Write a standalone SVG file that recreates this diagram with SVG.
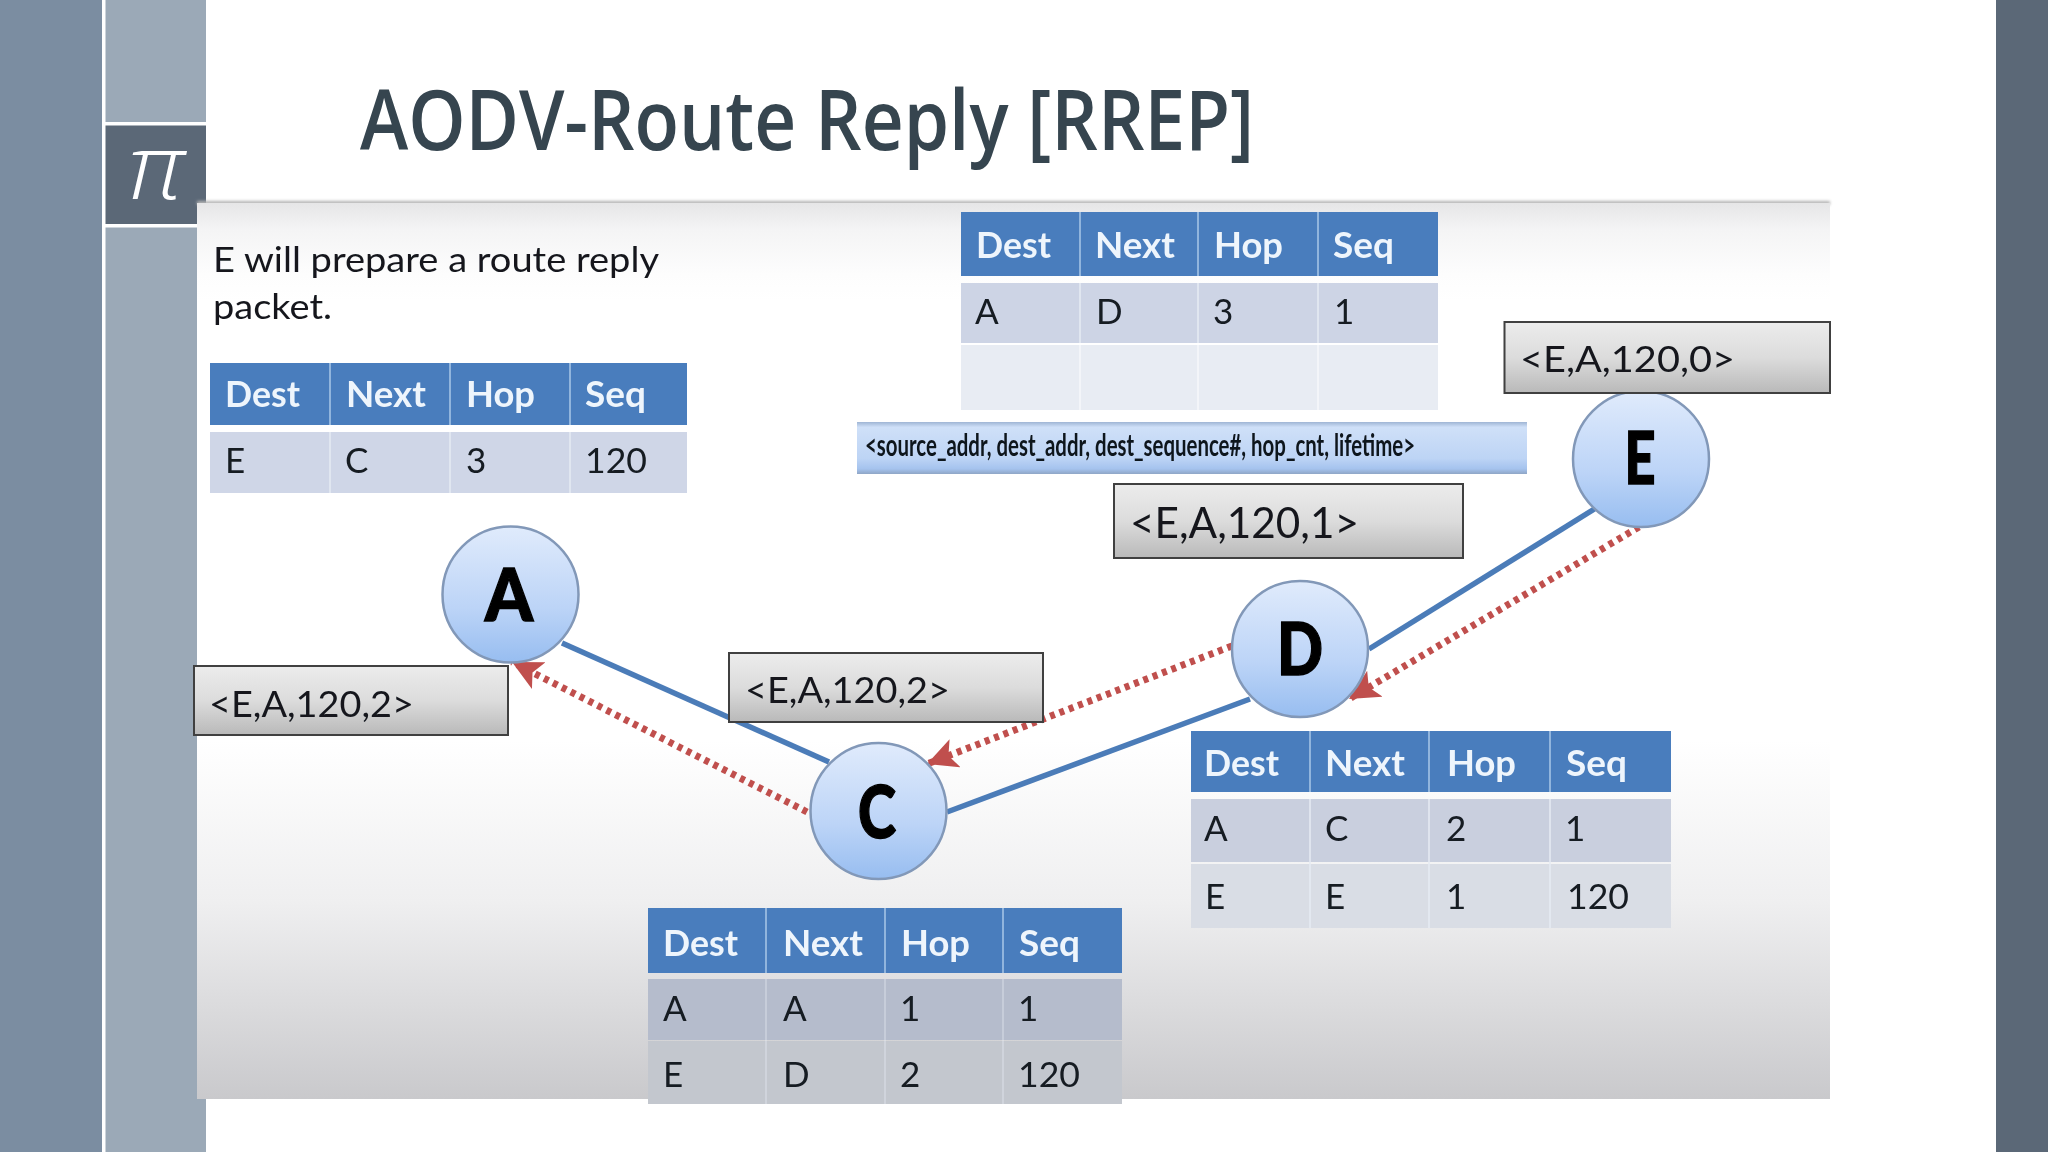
<svg xmlns="http://www.w3.org/2000/svg" width="2048" height="1152" viewBox="0 0 2048 1152">
<defs>
<linearGradient id="photoBg" x1="0" y1="0" x2="0" y2="1">
<stop offset="0" stop-color="#e6e6e7"/><stop offset="0.03" stop-color="#f4f4f5"/><stop offset="0.08" stop-color="#fdfdfd"/><stop offset="0.11" stop-color="#ffffff"/><stop offset="0.6" stop-color="#ffffff"/><stop offset="0.78" stop-color="#efeff0"/><stop offset="1" stop-color="#c9c9cc"/>
</linearGradient>
<linearGradient id="nodeFill" x1="0" y1="0" x2="0" y2="1">
<stop offset="0" stop-color="#e0ebfc"/><stop offset="0.6" stop-color="#bcd4f7"/><stop offset="1" stop-color="#97bdf0"/>
</linearGradient>
<linearGradient id="boxFill" x1="0" y1="0" x2="0" y2="1">
<stop offset="0" stop-color="#ececec"/><stop offset="0.5" stop-color="#dcdcdc"/><stop offset="1" stop-color="#b9b9b9"/>
</linearGradient>
<linearGradient id="barFill" x1="0" y1="0" x2="0" y2="1">
<stop offset="0" stop-color="#9fb5d4"/><stop offset="0.1" stop-color="#cfe0f8"/><stop offset="0.7" stop-color="#bdd4f5"/><stop offset="0.9" stop-color="#a5c3ee"/><stop offset="1" stop-color="#8fa6c6"/>
</linearGradient>
<filter id="soft" x="-5%" y="-5%" width="110%" height="110%"><feGaussianBlur stdDeviation="0.55"/></filter>
<filter id="topShade" x="-2%" y="-100%" width="104%" height="300%"><feGaussianBlur stdDeviation="1.8"/></filter>
<marker id="redHead" markerUnits="userSpaceOnUse" markerWidth="34" markerHeight="34" refX="30" refY="15" orient="auto">
<path d="M0 0L30 15L0 30L7 15Z" fill="#c0504d"/>
</marker>
<style>
text{font-family:"Lato","Open Sans","Liberation Sans",sans-serif}
.hd{font-size:36px;font-weight:700;fill:#eef5fc}
.cell{font-size:35px;fill:#141a22}
.hdr{fill:#4a7dbd}
.sep{stroke:#a9c7e8;stroke-width:1.5}
.sep2{stroke:#e6ebf3;stroke-width:1.5}
.box{fill:url(#boxFill);stroke:#3f3f3f;stroke-width:2}
.boxt{font-size:36px;fill:#14181e}
.node{fill:url(#nodeFill);stroke:#8298b8;stroke-width:2.5}
.nodet{font-size:72px;font-weight:900;fill:#050505;stroke:#050505;stroke-width:1.5;text-anchor:middle}
.link{stroke:#4c7cb8;stroke-width:5.5;fill:none}
.msg{stroke:#c0504d;stroke-width:7;stroke-dasharray:5 5;fill:none;marker-end:url(#redHead)}
</style>
</defs>
<rect width="2048" height="1152" fill="#ffffff"/>
<g id="slide-frame">
<rect x="0" y="0" width="102" height="1152" fill="#7b8da1"/>
<rect x="105.500" y="0" width="100.500" height="122" fill="#9ba9b7"/>
<rect x="105.500" y="125.500" width="100.500" height="98.500" fill="#5b6877"/>
<rect x="105.500" y="227.500" width="100.500" height="924.500" fill="#9ba9b7"/>
<rect x="1996" y="0" width="52" height="1152" fill="#5b6877"/>
<text x="127" y="199" textLength="58" lengthAdjust="spacingAndGlyphs" style="font-family:'Open Sans','Liberation Serif',serif;font-style:italic;font-weight:300;font-size:90px;fill:#ffffff">π</text>
</g>
<text id="title" x="360" y="150" textLength="894" lengthAdjust="spacingAndGlyphs" style="font-family:'Open Sans','Lato',sans-serif;font-size:84px;font-weight:600;fill:#36454f">AODV-Route Reply [RREP]</text>
<rect x="197" y="201" width="1633" height="4" fill="#b4b4b4" filter="url(#topShade)"/>
<rect id="photo" x="197" y="203" width="1633" height="896" fill="url(#photoBg)"/>
<g filter="url(#soft)">
<g id="caption">
<text x="213" y="272" textLength="446" lengthAdjust="spacingAndGlyphs" style="font-size:35px;fill:#14181e">E will prepare a route reply</text>
<text x="213" y="319" textLength="119" lengthAdjust="spacingAndGlyphs" style="font-size:35px;fill:#14181e">packet.</text>
</g>
<g id="connectors">
<line class="link" x1="562" y1="643" x2="829" y2="762"/>
<line class="link" x1="947" y1="812" x2="1250" y2="699"/>
<line class="link" x1="1369" y1="649" x2="1596" y2="508"/>
<line class="msg" x1="1639" y1="527" x2="1349" y2="699"/>
<line class="msg" x1="1232" y1="646" x2="927" y2="764"/>
<line class="msg" x1="807" y1="812" x2="512" y2="662"/>
</g>
<g id="table-A">
<rect class="hdr" x="210" y="363" width="477" height="62"/>
<rect x="210" y="432" width="477" height="61" fill="#cfd6e7"/>
<path class="sep" d="M330 363V425M450 363V425M570 363V425"/>
<path class="sep2" d="M330 432V493M450 432V493M570 432V493"/>
<text class="hd" x="225" y="407" textLength="75" lengthAdjust="spacingAndGlyphs">Dest</text>
<text class="hd" x="346" y="407" textLength="80" lengthAdjust="spacingAndGlyphs">Next</text>
<text class="hd" x="466" y="407" textLength="69" lengthAdjust="spacingAndGlyphs">Hop</text>
<text class="hd" x="585" y="407" textLength="61" lengthAdjust="spacingAndGlyphs">Seq</text>
<text class="cell" x="225" y="473">E</text><text class="cell" x="345" y="473">C</text><text class="cell" x="466" y="473">3</text>
<text class="cell" x="585" y="473" textLength="62" lengthAdjust="spacingAndGlyphs">120</text>
</g>
<g id="table-E">
<rect class="hdr" x="961" y="212" width="477" height="64"/>
<rect x="961" y="283" width="477" height="60" fill="#cdd4e5"/>
<rect x="961" y="345" width="477" height="65" fill="#e8ecf3"/>
<path class="sep" d="M1080 212V276M1198 212V276M1318 212V276"/>
<path class="sep2" d="M1080 283V343M1198 283V343M1318 283V343"/>
<path class="sep2" d="M1080 345V410M1198 345V410M1318 345V410" style="stroke:#f6f8fb"/>
<text class="hd" x="976" y="258" textLength="75" lengthAdjust="spacingAndGlyphs">Dest</text>
<text class="hd" x="1095" y="258" textLength="80" lengthAdjust="spacingAndGlyphs">Next</text>
<text class="hd" x="1214" y="258" textLength="69" lengthAdjust="spacingAndGlyphs">Hop</text>
<text class="hd" x="1333" y="258" textLength="61" lengthAdjust="spacingAndGlyphs">Seq</text>
<text class="cell" x="975" y="324">A</text><text class="cell" x="1096" y="324">D</text><text class="cell" x="1213" y="324">3</text><text class="cell" x="1334" y="324">1</text>
</g>
<g id="table-D">
<rect class="hdr" x="1191" y="731" width="480" height="61"/>
<rect x="1191" y="799" width="480" height="63" fill="#c9cfde"/>
<rect x="1191" y="864" width="480" height="64" fill="#d9dde5"/>
<path class="sep" d="M1310 731V792M1429 731V792M1550 731V792"/>
<path class="sep2" d="M1310 799V928M1429 799V928M1550 799V928"/>
<text class="hd" x="1204" y="776" textLength="75" lengthAdjust="spacingAndGlyphs">Dest</text>
<text class="hd" x="1325" y="776" textLength="80" lengthAdjust="spacingAndGlyphs">Next</text>
<text class="hd" x="1447" y="776" textLength="69" lengthAdjust="spacingAndGlyphs">Hop</text>
<text class="hd" x="1566" y="776" textLength="61" lengthAdjust="spacingAndGlyphs">Seq</text>
<text class="cell" x="1204" y="841">A</text><text class="cell" x="1325" y="841">C</text><text class="cell" x="1446" y="841">2</text><text class="cell" x="1565" y="841">1</text>
<text class="cell" x="1205" y="909">E</text><text class="cell" x="1325" y="909">E</text><text class="cell" x="1446" y="909">1</text>
<text class="cell" x="1567" y="909" textLength="62" lengthAdjust="spacingAndGlyphs">120</text>
</g>
<g id="table-C">
<rect class="hdr" x="648" y="908" width="474" height="65"/>
<rect x="648" y="979" width="474" height="61" fill="#b5bccc"/>
<rect x="648" y="1041" width="474" height="63" fill="#c3c7ce"/>
<path class="sep" d="M766 908V973M885 908V973M1003 908V973"/>
<path class="sep2" d="M766 979V1104M885 979V1104M1003 979V1104" opacity="0.5"/>
<text class="hd" x="663" y="956" textLength="75" lengthAdjust="spacingAndGlyphs">Dest</text>
<text class="hd" x="783" y="956" textLength="80" lengthAdjust="spacingAndGlyphs">Next</text>
<text class="hd" x="901" y="956" textLength="69" lengthAdjust="spacingAndGlyphs">Hop</text>
<text class="hd" x="1019" y="956" textLength="61" lengthAdjust="spacingAndGlyphs">Seq</text>
<text class="cell" x="663" y="1021">A</text><text class="cell" x="783" y="1021">A</text><text class="cell" x="900" y="1021">1</text><text class="cell" x="1018" y="1021">1</text>
<text class="cell" x="663" y="1087">E</text><text class="cell" x="783" y="1087">D</text><text class="cell" x="900" y="1087">2</text>
<text class="cell" x="1018" y="1087" textLength="62" lengthAdjust="spacingAndGlyphs">120</text>
</g>
<g id="format-bar">
<rect x="857" y="422" width="670" height="52" fill="url(#barFill)"/>
<text x="865" y="456" textLength="550" lengthAdjust="spacingAndGlyphs" style="font-size:30px;font-weight:700;fill:#10151c">&lt;source_addr, dest_addr, dest_sequence#, hop_cnt, lifetime&gt;</text>
</g>
<g id="node-E"><circle class="node" cx="1641" cy="459" r="68"/><text class="nodet" x="1640" y="484" textLength="31" lengthAdjust="spacingAndGlyphs">E</text></g>
<g id="node-D"><circle class="node" cx="1300" cy="649" r="68"/><text class="nodet" x="1300" y="675" textLength="46" lengthAdjust="spacingAndGlyphs">D</text></g>
<g id="node-C"><circle class="node" cx="878.500" cy="811" r="68"/><text class="nodet" x="877" y="838" textLength="38" lengthAdjust="spacingAndGlyphs">C</text></g>
<g id="node-A"><circle class="node" cx="510.500" cy="594.500" r="68"/><text class="nodet" x="509" y="621" textLength="48" lengthAdjust="spacingAndGlyphs">A</text></g>
<g id="msg-E"><rect class="box" x="1504.500" y="322" width="325.500" height="71"/><text class="boxt" x="1520" y="372" textLength="215" lengthAdjust="spacingAndGlyphs">&lt;E,A,120,0&gt;</text></g>
<g id="msg-D"><rect class="box" x="1114" y="484" width="349" height="74"/><text class="boxt" style="font-size:42px" x="1130" y="538" textLength="229" lengthAdjust="spacingAndGlyphs">&lt;E,A,120,1&gt;</text></g>
<g id="msg-C"><rect class="box" x="729" y="653" width="314" height="69"/><text class="boxt" x="745" y="703" textLength="205" lengthAdjust="spacingAndGlyphs">&lt;E,A,120,2&gt;</text></g>
<g id="msg-A"><rect class="box" x="194" y="666" width="314" height="69"/><text class="boxt" x="209" y="717" textLength="205" lengthAdjust="spacingAndGlyphs">&lt;E,A,120,2&gt;</text></g>
</g>
</svg>
